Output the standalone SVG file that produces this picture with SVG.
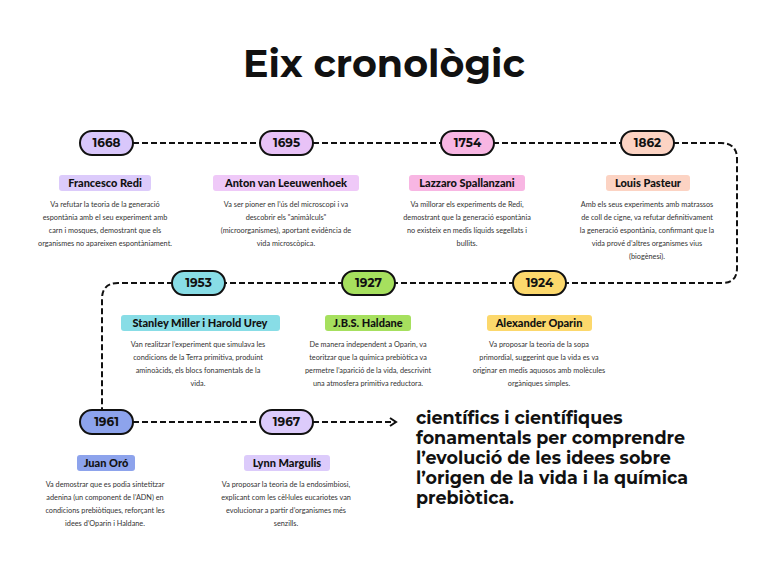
<svg xmlns="http://www.w3.org/2000/svg" width="768" height="576" viewBox="0 0 768 576">
<style>
.pill{stroke:#111;stroke-width:2}
.yr{font-family:"Montserrat","Lato","Liberation Sans",sans-serif;font-weight:700;font-size:12px;fill:#111;text-anchor:middle}
.nm{font-family:"Lato","Liberation Sans",sans-serif;font-weight:900;font-size:11px;fill:#111;text-anchor:middle}
.ds{font-family:"Lato","Liberation Sans",sans-serif;font-size:7.3px;fill:#333;text-anchor:middle}
.cn{fill:none;stroke:#111;stroke-width:2;stroke-dasharray:6 3}
</style>
<defs><marker id="ar" markerWidth="10" markerHeight="10" refX="8" refY="5" orient="auto" markerUnits="userSpaceOnUse"><path d="M2,1 L8,5 L2,9" fill="none" stroke="#111" stroke-width="2"/></marker></defs>
<rect width="768" height="576" fill="#fff"/>
<text x="384" y="77" text-anchor="middle" font-family="Montserrat,Lato,'Liberation Sans',sans-serif" font-weight="700" font-size="38" fill="#111">Eix cronològic</text>
<g id="connectors">
<path class="cn" d="M133,143 H721 Q737,143 737,159 V268 Q737,283 722,283 H118 Q102,283 102,299 V410"/>
<path class="cn" d="M133,422 H396" marker-end="url(#ar)"/>
</g>
<g id="n1668"><rect class="pill" x="80" y="131" width="53" height="24" rx="12" fill="#d9c7fb"/><text class="yr" x="106.5" y="147">1668</text>
<rect x="59" y="175" width="92" height="16" rx="3" fill="#dccbfb"/><text class="nm" x="105" y="187">Francesco Redi</text>
<text class="ds" x="105" y="207">Va refutar la teoria de la generació</text><text class="ds" x="105" y="220">espontània amb el seu experiment amb</text><text class="ds" x="105" y="233">carn i mosques, demostrant que els</text><text class="ds" x="105" y="246">organismes no apareixen espontàniament.</text></g>
<g id="n1695"><rect class="pill" x="260" y="131" width="53" height="24" rx="12" fill="#e8c2f7"/><text class="yr" x="286.5" y="147">1695</text>
<rect x="213" y="175" width="146" height="16" rx="3" fill="#efc9f8"/><text class="nm" x="286" y="187">Anton van Leeuwenhoek</text>
<text class="ds" x="286" y="207">Va ser pioner en l’ús del microscopi i va</text><text class="ds" x="286" y="220">descobrir els "animàlculs"</text><text class="ds" x="286" y="233">(microorganismes), aportant evidència de</text><text class="ds" x="286" y="246">vida microscòpica.</text></g>
<g id="n1754"><rect class="pill" x="441" y="131" width="53" height="24" rx="12" fill="#f8b6e3"/><text class="yr" x="467.5" y="147">1754</text>
<rect x="409" y="175" width="116" height="16" rx="3" fill="#f8b6e3"/><text class="nm" x="467" y="187">Lazzaro Spallanzani</text>
<text class="ds" x="467" y="207">Va millorar els experiments de Redi,</text><text class="ds" x="467" y="220">demostrant que la generació espontània</text><text class="ds" x="467" y="233">no existeix en medis líquids segellats i</text><text class="ds" x="467" y="246">bullits.</text></g>
<g id="n1862"><rect class="pill" x="621" y="131" width="53" height="24" rx="12" fill="#fcd3c3"/><text class="yr" x="647.5" y="147">1862</text>
<rect x="606" y="175" width="84" height="16" rx="3" fill="#fcd3c3"/><text class="nm" x="648" y="187">Louis Pasteur</text>
<text class="ds" x="647" y="207">Amb els seus experiments amb matrassos</text><text class="ds" x="647" y="220">de coll de cigne, va refutar definitivament</text><text class="ds" x="647" y="233">la generació espontània, confirmant que la</text><text class="ds" x="647" y="246">vida prové d’altres organismes vius</text><text class="ds" x="647" y="259">(biogènesi).</text></g>
<g id="n1953"><rect class="pill" x="172" y="271" width="53" height="24" rx="12" fill="#88dde6"/><text class="yr" x="198.5" y="287">1953</text>
<rect x="121" y="315" width="159" height="16" rx="3" fill="#88dde6"/><text class="nm" x="200" y="327">Stanley Miller i Harold Urey</text>
<text class="ds" x="198" y="347">Van realitzar l’experiment que simulava les</text><text class="ds" x="198" y="360">condicions de la Terra primitiva, produint</text><text class="ds" x="198" y="373">aminoàcids, els blocs fonamentals de la</text><text class="ds" x="198" y="386">vida.</text></g>
<g id="n1927"><rect class="pill" x="342" y="271" width="53" height="24" rx="12" fill="#a6e05e"/><text class="yr" x="368.5" y="287">1927</text>
<rect x="325" y="315" width="86" height="16" rx="3" fill="#a6e05e"/><text class="nm" x="368" y="327">J.B.S. Haldane</text>
<text class="ds" x="368" y="347">De manera independent a Oparin, va</text><text class="ds" x="368" y="360">teoritzar que la química prebiòtica va</text><text class="ds" x="368" y="373">permetre l’aparició de la vida, descrivint</text><text class="ds" x="368" y="386">una atmosfera primitiva reductora.</text></g>
<g id="n1924"><rect class="pill" x="513" y="271" width="53" height="24" rx="12" fill="#fcd86c"/><text class="yr" x="539.5" y="287">1924</text>
<rect x="487" y="315" width="105" height="16" rx="3" fill="#fcd86c"/><text class="nm" x="539" y="327">Alexander Oparin</text>
<text class="ds" x="539" y="347">Va proposar la teoria de la sopa</text><text class="ds" x="539" y="360">primordial, suggerint que la vida es va</text><text class="ds" x="539" y="373">originar en medis aquosos amb molècules</text><text class="ds" x="539" y="386">orgàniques simples.</text></g>
<g id="n1961"><rect class="pill" x="80" y="410" width="53" height="24" rx="12" fill="#8da3ec"/><text class="yr" x="106.5" y="426">1961</text>
<rect x="77" y="455" width="58" height="16" rx="3" fill="#8da3ec"/><text class="nm" x="106" y="467">Juan Oró</text>
<text class="ds" x="105" y="487">Va demostrar que es podia sintetitzar</text><text class="ds" x="105" y="500">adenina (un component de l’ADN) en</text><text class="ds" x="105" y="513">condicions prebiòtiques, reforçant les</text><text class="ds" x="105" y="526">idees d’Oparin i Haldane.</text></g>
<g id="n1967"><rect class="pill" x="260" y="410" width="53" height="24" rx="12" fill="#dccbfb"/><text class="yr" x="286.5" y="426">1967</text>
<rect x="244" y="455" width="86" height="16" rx="3" fill="#dccbfb"/><text class="nm" x="287" y="467">Lynn Margulis</text>
<text class="ds" x="286" y="487">Va proposar la teoria de la endosimbiosi,</text><text class="ds" x="286" y="500">explicant com les cèl·lules eucariotes van</text><text class="ds" x="286" y="513">evolucionar a partir d’organismes més</text><text class="ds" x="286" y="526">senzills.</text></g>
<g id="summary" font-family="Montserrat,Lato,'Liberation Sans',sans-serif" font-weight="700" font-size="17.5" fill="#111">
<text x="416" y="424">científics i científiques</text><text x="416" y="444">fonamentals per comprendre</text><text x="416" y="464">l’evolució de les idees sobre</text><text x="416" y="484">l’origen de la vida i la química</text><text x="416" y="504">prebiòtica.</text></g>
</svg>
